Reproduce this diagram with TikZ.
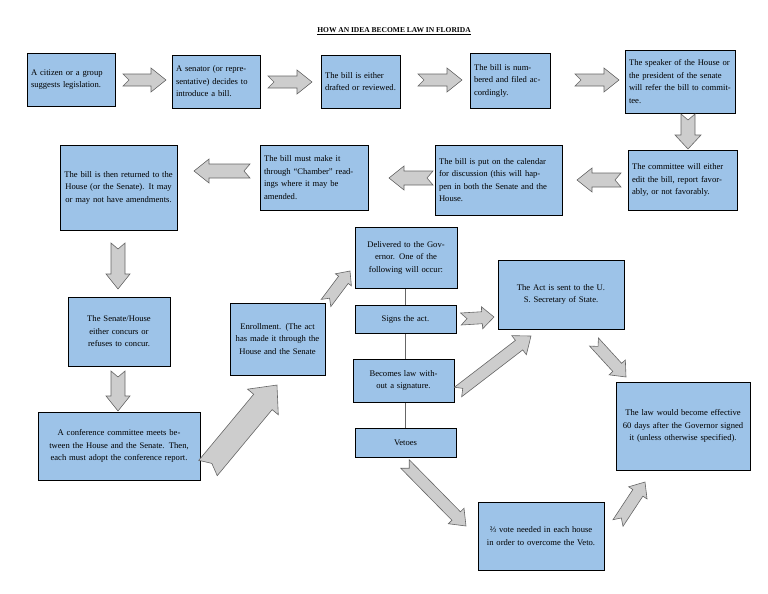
\documentclass[tikz,border=0pt]{standalone}
\usepackage{fontspec}
\setmainfont{Liberation Serif}
\usetikzlibrary{calc}
\definecolor{boxblue}{RGB}{157,195,232}
\definecolor{arrgray}{RGB}{205,205,205}
\tikzset{
 bx/.style={draw=black, line width=0.9pt, fill=boxblue, inner sep=2pt, font=\fontsize{8.6}{12.5}\selectfont},
 arr/.style={draw=black!60, fill=arrgray, line width=0.6pt, line join=miter}
}
% \barr{x1}{y1}{x2}{y2}{half head width}{half shaft width}{head length}
\newcommand\barr[7]{%
 \pgfmathsetmacro\bang{atan2(-(#4-#2),#3-#1)}%
 \pgfmathsetmacro\blen{veclen(#3-#1,#4-#2)}%
 \begin{scope}[shift={(#1,#2)},rotate=\bang]
 \draw[arr] (0,-#6) -- (\blen-#7,-#6) -- (\blen-#7,-#5) -- (\blen,0) -- (\blen-#7,#5) -- (\blen-#7,#6) -- (0,#6) -- (6,0) -- cycle;
 \end{scope}}
\newcommand\mkbox[8]{% name x1 y1 x2 y2 align text
 \node[bx, minimum width=#4-#2, minimum height=#5-#3, text width=#4-#2-8, align=#6, #8] (#1) at ({(#2+#4)/2},{(#3+#5)/2}) {#7};}
\begin{document}
\begin{tikzpicture}[x=1pt,y=-1pt]
\useasboundingbox (0,0) rectangle (768,594);
\node[font=\bfseries\fontsize{7.5}{9}\selectfont] (title) at (394,31) {\underline{HOW AN IDEA BECOME LAW IN FLORIDA}};
\draw[black!60, line width=0.8pt] (405,288) -- (405,428);
\mkbox{b1}{27}{53}{115}{106}{left}{A citizen or a group suggests legislation.}{}
\mkbox{b2}{172}{55}{260}{108}{left}{A senator (or representative) decides to introduce a bill.}{}
\mkbox{b3}{321}{55}{400}{108}{left}{The bill is either drafted or reviewed.}{}
\mkbox{b4}{470}{53}{550}{108}{left}{The bill is numbered and filed accordingly.}{}
\mkbox{b5}{625}{50}{735}{113}{left}{The speaker of the House or the president of the senate will refer the bill to committee.}{}
\mkbox{b6}{628}{150}{737}{210}{left}{The committee will either edit the bill, report favorably, or not favorably.}{}
\mkbox{b7}{435}{145}{562}{215}{left}{The bill is put on the calendar for discussion (this will happen in both the Senate and the House.}{}
\mkbox{b8}{260}{145}{368}{210}{left}{The bill must make it through ``Chamber'' readings where it may be amended.}{}
\mkbox{b9}{60}{145}{177}{230}{center}{The bill is then returned to the House (or the Senate). It may or may not have amendments.}{}
\mkbox{b10}{68}{297}{170}{366}{center}{The Senate/House either concurs or refuses to concur.}{}
\mkbox{b11}{38}{412}{200}{480}{center}{A conference committee meets between the House and the Senate. Then, each must adopt the conference report.}{}
\mkbox{b12}{230}{303}{325}{375}{center}{Enrollment. (The act has made it through the House and the Senate}{}
\mkbox{b13}{355}{227}{457}{288}{center}{Delivered to the Governor. One of the following will occur:}{}
\mkbox{b14}{355}{305}{456}{333}{center}{Signs the act.}{}
\mkbox{b15}{353}{359}{454}{402}{center}{Becomes law without a signature.}{}
\mkbox{b16}{355}{428}{456}{457}{center}{Vetoes}{}
\mkbox{b17}{498}{260}{624}{329}{center}{The Act is sent to the U. S. Secretary of State.}{}
\mkbox{b18}{616}{382}{750}{470}{center}{The law would become effective 60 days after the Governor signed it (unless otherwise specified).}{}
\mkbox{b19}{478}{502}{604}{570}{center}{⅔ vote needed in each house in order to overcome the Veto.}{}
\barr{123}{80}{166}{80}{12}{6}{15}
\barr{268}{82}{312}{82}{12}{6}{15}
\barr{418}{80}{462}{80}{12}{6}{15}
\barr{575}{80}{619}{80}{12}{6}{15}
\barr{688}{114}{688}{149}{13}{7}{14}
\barr{621}{180}{577}{180}{12}{7}{15}
\barr{433}{178}{389}{178}{12}{7}{15}
\barr{250}{171}{194}{171}{12}{7}{15}
\barr{118}{243}{118}{289}{12}{7}{15}
\barr{118}{371}{118}{411}{12}{7}{15}
\barr{208}{468}{277}{385}{20}{12}{22}
\barr{326}{303}{350}{271}{10}{6}{11}
\barr{461}{319}{494}{317}{11}{6}{12}
\barr{458}{392}{531}{336}{12}{6}{15}
\barr{594}{342}{626}{377}{11}{6}{13}
\barr{405}{464}{466}{526}{11}{6}{14}
\barr{618}{523}{645}{482}{11}{6}{13}
\end{tikzpicture}
\end{document}
